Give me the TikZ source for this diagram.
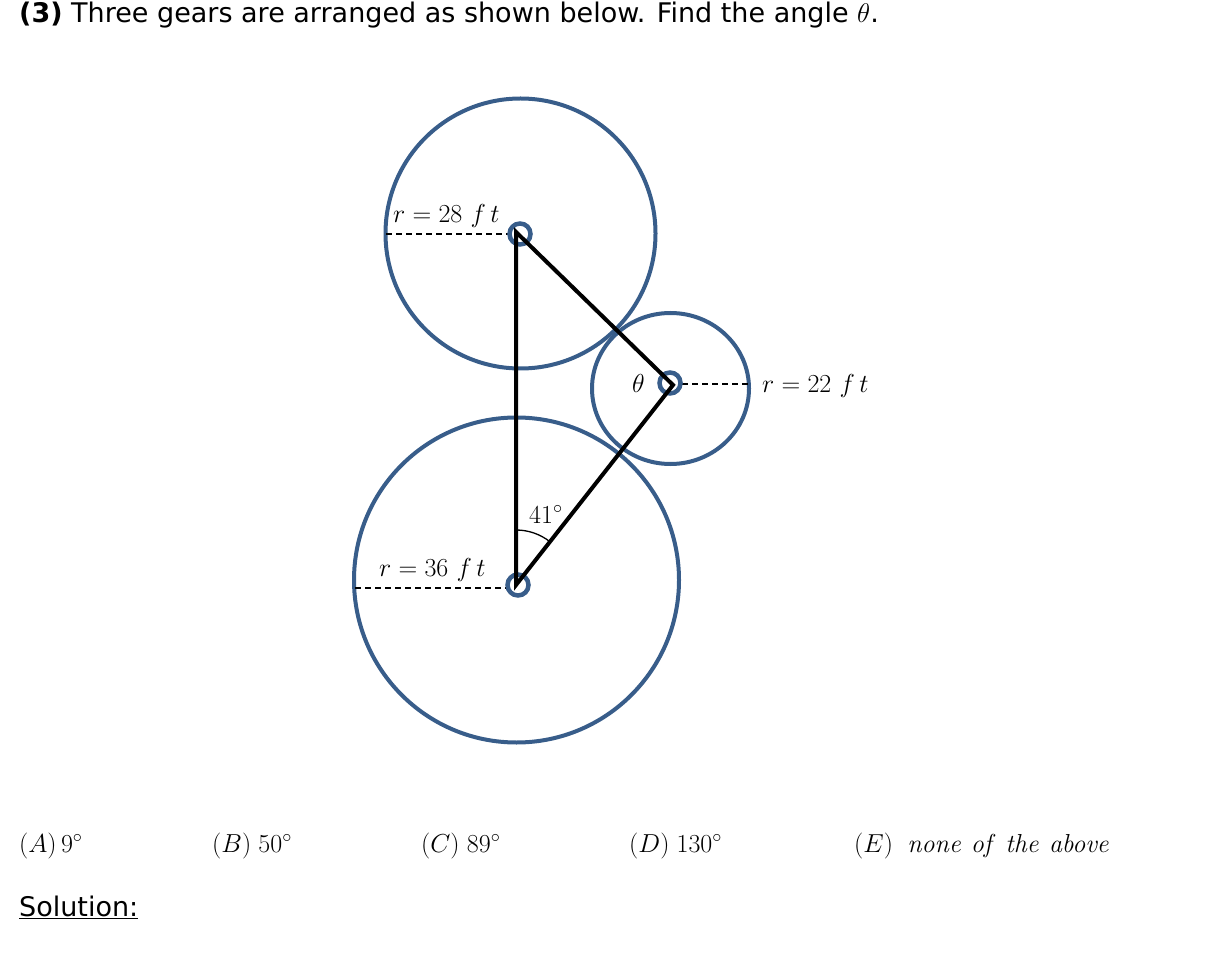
\RequirePackage{fix-cm}
\documentclass[tikz,border=0pt]{standalone}
\usepackage[no-math]{fontspec}
\setmainfont{DejaVu Sans}
\usetikzlibrary{shapes.geometric}
\definecolor{gearblue}{HTML}{385D8A}
\tikzset{
  gear/.style={ellipse, draw=gearblue, line width=4pt, inner sep=0pt},
  hub/.style={circle, draw=gearblue, line width=4.5pt, fill=white, minimum size=21pt, inner sep=0pt},
  rod/.style={line width=4pt, line join=miter},
  radius line/.style={line width=1.5pt, dash pattern=on 6pt off 4pt},
  lbl/.style={anchor=base west, inner sep=0pt, font=\fontsize{26}{30}\selectfont},
  txt/.style={anchor=base west, inner sep=0pt, font=\fontsize{27}{32}\selectfont}
}
\begin{document}
\begin{tikzpicture}[x=1pt,y=-1pt]
\useasboundingbox (0,0) rectangle (1213,965);
% title
\node[txt] (title) at (19,23) {\textbf{(3)} Three gears are arranged as shown below. Find the angle $\theta$.};
% gears
\node[gear, minimum width=270pt, minimum height=270pt] (G1) at (520.5,233.5) {};
\node[gear, minimum width=157pt, minimum height=151pt] (G2) at (670.5,388.5) {};
\node[gear, minimum width=325pt, minimum height=325pt] (G3) at (516.5,580) {};
% dashed radius lines
\coordinate (d1a) at (386,234); \coordinate (d1b) at (508,234);
\coordinate (d2a) at (682,384); \coordinate (d2b) at (750,384);
\coordinate (d3a) at (355,588); \coordinate (d3b) at (506,588);
\draw[radius line] (d1a) -- (d1b);
\draw[radius line] (d2a) -- (d2b);
\draw[radius line] (d3a) -- (d3b);
% hubs
\node[hub] (H1) at (520,234) {};
\node[hub] (H2) at (670,383) {};
\node[hub] (H3) at (518,585) {};
% triangle
\coordinate (T1) at (516,232);
\coordinate (T2) at (673,385);
\coordinate (T3) at (516,585);
\draw[rod] (T1) -- (T2) -- (T3) -- cycle;
% angle arc
\draw[line width=1.3pt] (T3) ++(270:55) arc (270:308:55);
% labels
\node[lbl] (L1) at (393,223) {$r=28\ f\,t$};
\node[lbl] (L2) at (762,393) {$r=22\ f\,t$};
\node[lbl] (L3) at (379,576) {$r=36\ f\,t$};
\node[lbl] (Lth) at (632,393) {$\theta$};
\node[lbl] (L41) at (529,523) {$41^\circ$};
% options
\node[lbl] (A) at (19,852) {$(A)\,9^\circ$};
\node[lbl] (B) at (212,852) {$(B)\;50^\circ$};
\node[lbl] (C) at (421,852) {$(C)\;89^\circ$};
\node[lbl] (D) at (629,852) {$(D)\;130^\circ$};
\node[lbl] (E) at (854,852) {$(E)\;\;\mathit{none\ of\ the\ above}$};
\node[txt] (sol) at (19,916) {\underline{Solution:}};
\end{tikzpicture}
\end{document}
